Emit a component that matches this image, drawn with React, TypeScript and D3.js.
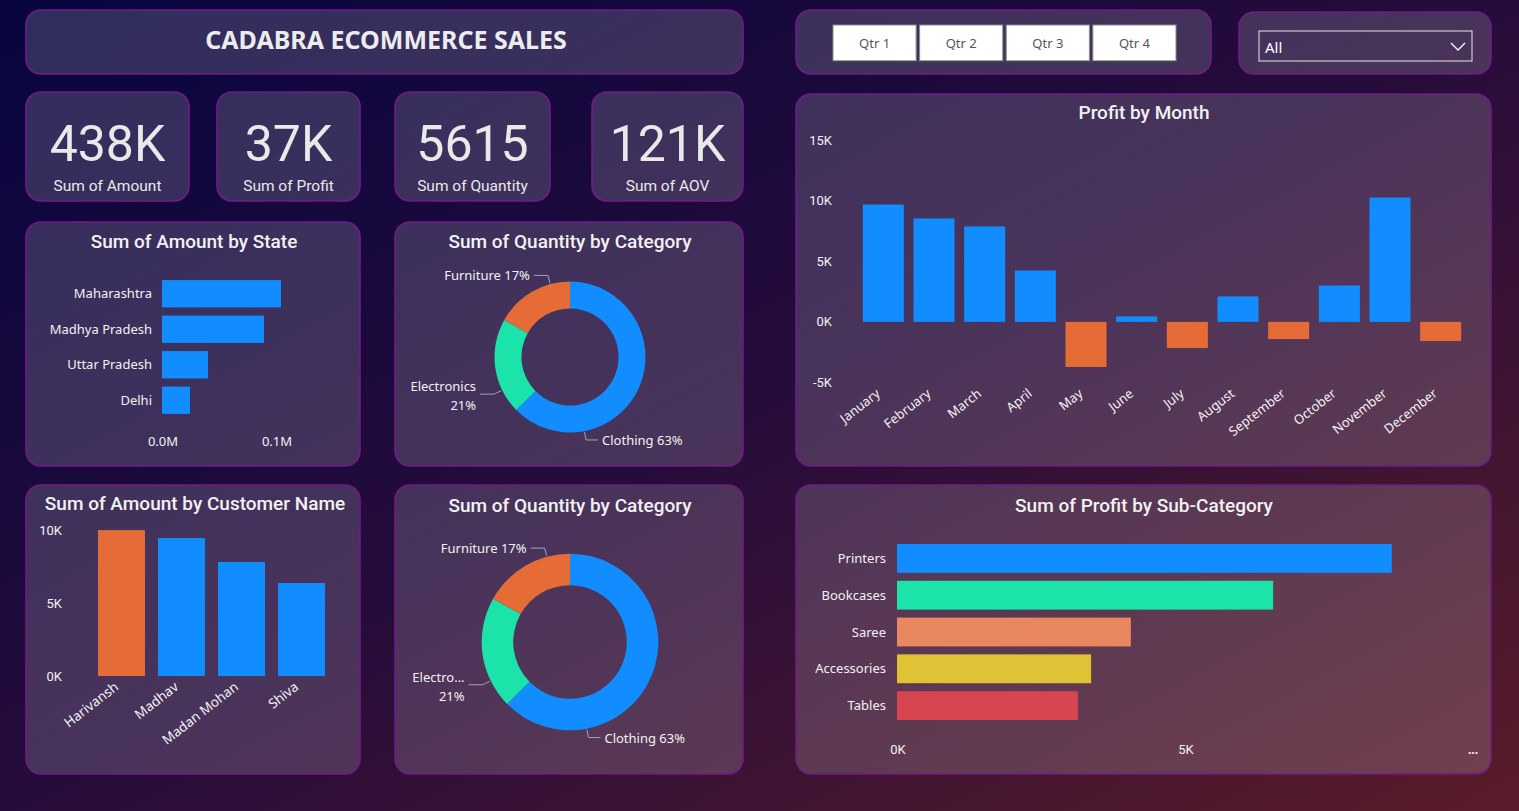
import React from "react";
import * as d3 from "d3";

// KPI cards
const KPI_VALUES = ["438K", "37K", "5615", "121K"];
const KPI_LABELS = ["Sum of Amount", "Sum of Profit", "Sum of Quantity", "Sum of AOV"];
const QUARTERS = ["Qtr 1", "Qtr 2", "Qtr 3", "Qtr 4"];

// Sum of Amount by State
const STATES = ["Maharashtra", "Madhya Pradesh", "Uttar Pradesh", "Delhi"];
const STATE_AMOUNT = [103500, 88600, 39500, 23700];

// Sum of Quantity by Category
const CATEGORIES = ["Clothing", "Electronics", "Furniture"];
const CATEGORY_QTY = [3516, 1154, 945];

// Profit by Month
const MONTHS = ["January", "February", "March", "April", "May", "June", "July", "August", "September", "October", "November", "December"];
const MONTH_PROFIT = [9680, 8530, 7870, 4240, -3720, 450, -2160, 2100, -1420, 3000, 10260, -1580];

// Sum of Amount by Customer Name
const CUSTOMERS = ["Harivansh", "Madhav", "Madan Mohan", "Shiva"];
const CUSTOMER_AMOUNT = [9990, 9450, 7810, 6370];

// Sum of Profit by Sub-Category
const SUBCATS = ["Printers", "Bookcases", "Saree", "Accessories", "Tables"];
const SUBCAT_PROFIT = [8590, 6530, 4060, 3370, 3140];

const DIN = "Roboto, 'DejaVu Sans', sans-serif";
const SEGOE = "'Noto Sans', 'Open Sans', sans-serif";
const TEXT = "#f2f2f2";
const BLUE = "#118DFF";
const ORANGE = "#E66C37";
const TEAL = "#1CE3A9";
const SUBCAT_COLORS = [BLUE, TEAL, "#E9875F", "#E0C235", "#D64550"];
const CATEGORY_COLORS = [BLUE, TEAL, ORANGE];
// where along each slice the leader line leaves the ring
const LEADER_T = [0.75, 0.25, 0.75];

const kFmt = (d: number) => `${d / 1000}K`;

const Panel = ({ x, y, w, h }: { x: number; y: number; w: number; h: number }) => (
  <rect x={x} y={y} width={w} height={h} rx={15} fill="rgba(255,255,255,0.16)" stroke="#701c88" strokeWidth={1.6} />
);

const Title = ({ x, y, text }: { x: number; y: number; text: string }) => (
  <text x={x} y={y} textAnchor="middle" fontFamily={DIN} fontWeight={500} fontSize={19} fill={TEXT}>{text}</text>
);

const StateChart = () => {
  const x = d3.scaleLinear().domain([0, 100000]).range([163, 277]);
  const y = d3.scaleBand().domain(STATES).range([276, 418]).paddingInner(0.23).paddingOuter(0.115);
  return (
    <g>
      <Title x={194} y={248} text="Sum of Amount by State" />
      {STATES.map((s, i) => (
        <g key={s}>
          <rect x={x(0) - 1} y={y(s)} width={x(STATE_AMOUNT[i]) - x(0) + 1} height={y.bandwidth()} fill={BLUE} />
          <text x={152} y={(y(s) as number) + y.bandwidth() / 2} dy="0.35em" textAnchor="end" fontFamily={SEGOE} fontSize={13} fill={TEXT}>{s}</text>
        </g>
      ))}
      {x.ticks(1).map((t) => (
        <text key={t} x={x(t)} y={446} textAnchor="middle" fontFamily={SEGOE} fontSize={13} fill={TEXT}>{`${(t / 1e6).toFixed(1)}M`}</text>
      ))}
    </g>
  );
};

const Donut = ({ cx, cy, r, title, titleY, truncate }: { cx: number; cy: number; r: number; title: string; titleY: number; truncate?: number }) => {
  const total = d3.sum(CATEGORY_QTY);
  const pie = d3.pie<number>().sort(null).value((d) => d)(CATEGORY_QTY);
  const arc = d3.arc<d3.PieArcDatum<number>>().innerRadius(r * 0.643).outerRadius(r);
  const pct = d3.format(".0%");
  return (
    <g>
      <Title x={cx} y={titleY} text={title} />
      <g transform={`translate(${cx},${cy})`}>
        {pie.map((p, i) => <path key={i} d={arc(p) as string} fill={CATEGORY_COLORS[i]} />)}
        {pie.map((p, i) => {
          const a = p.startAngle + LEADER_T[i] * (p.endAngle - p.startAngle);
          const pt = (rad: number) => [rad * Math.sin(a), -rad * Math.cos(a)];
          const [x0, y0] = pt(r + 1);
          const [x1, y1] = pt(r + 9);
          const left = Math.sin(a) < 0;
          const x2 = x1 + (left ? -14 : 12);
          const tx = x2 + (left ? -4 : 4);
          let name = CATEGORIES[i];
          if (truncate && name.length > truncate) name = name.slice(0, 7) + "...";
          const wrap = Math.abs(Math.cos(a)) < 0.5;
          const anchor = left ? "end" : "start";
          return (
            <g key={`l${i}`}>
              <polyline points={`${x0},${y0} ${x1},${y1} ${x2},${y1}`} fill="none" stroke="#a9a2b4" strokeWidth={1} />
              {wrap ? (
                <g>
                  <text x={tx} y={y1 - 3} textAnchor={anchor} fontFamily={SEGOE} fontSize={13} fill={TEXT}>{name}</text>
                  <text x={tx} y={y1 + 16} textAnchor={anchor} fontFamily={SEGOE} fontSize={13} fill={TEXT}>{pct(p.value / total)}</text>
                </g>
              ) : (
                <text x={tx} y={y1 + 5} textAnchor={anchor} fontFamily={SEGOE} fontSize={13} fill={TEXT}>{`${name} ${pct(p.value / total)}`}</text>
              )}
            </g>
          );
        })}
      </g>
    </g>
  );
};

const MonthChart = () => {
  const x = d3.scaleBand().domain(MONTHS).range([858, 1466]).paddingInner(0.19).paddingOuter(0.095);
  const y = d3.scaleLinear().domain([-5000, 15000]).range([382.5, 140]);
  return (
    <g>
      <Title x={1144} y={119} text="Profit by Month" />
      {y.ticks(4).map((t) => (
        <text key={t} x={832} y={y(t)} dy="0.35em" textAnchor="end" fontFamily={DIN} fontSize={13} fill={TEXT}>{kFmt(t)}</text>
      ))}
      {MONTHS.map((m, i) => {
        const v = MONTH_PROFIT[i];
        const cx = (x(m) as number) + x.bandwidth() / 2;
        return (
          <g key={m}>
            <rect x={x(m)} y={y(Math.max(0, v))} width={x.bandwidth()} height={Math.abs(y(v) - y(0))} fill={v >= 0 ? BLUE : ORANGE} />
            <text transform={`translate(${cx - 8},${388}) rotate(-38)`} dy="0.71em" textAnchor="end" fontFamily={SEGOE} fontSize={13} fill={TEXT}>{m}</text>
          </g>
        );
      })}
    </g>
  );
};

const CustomerChart = () => {
  const x = d3.scaleBand().domain(CUSTOMERS).range([91.5, 331.5]).paddingInner(0.217).paddingOuter(0.108);
  const y = d3.scaleLinear().domain([0, 10000]).range([676, 530]);
  const max = d3.max(CUSTOMER_AMOUNT) as number;
  return (
    <g>
      <Title x={195} y={510} text="Sum of Amount by Customer Name" />
      {y.ticks(2).map((t) => (
        <text key={t} x={62} y={y(t)} dy="0.35em" textAnchor="end" fontFamily={DIN} fontSize={13} fill={TEXT}>{kFmt(t)}</text>
      ))}
      {CUSTOMERS.map((c, i) => {
        const v = CUSTOMER_AMOUNT[i];
        const cx = (x(c) as number) + x.bandwidth() / 2;
        return (
          <g key={c}>
            <rect x={x(c)} y={y(v)} width={x.bandwidth()} height={y(0) - y(v)} fill={v === max ? ORANGE : BLUE} />
            <text transform={`translate(${cx - 8},${681}) rotate(-38)`} dy="0.71em" textAnchor="end" fontFamily={SEGOE} fontSize={13.5} fill={TEXT}>{c}</text>
          </g>
        );
      })}
    </g>
  );
};

const SubCategoryChart = () => {
  const x = d3.scaleLinear().domain([0, 5000]).range([897, 1185]);
  const y = d3.scaleBand().domain(SUBCATS).range([540, 724]).paddingInner(0.216).paddingOuter(0.108);
  return (
    <g>
      <Title x={1144} y={512} text="Sum of Profit by Sub-Category" />
      {SUBCATS.map((s, i) => (
        <g key={s}>
          <rect x={x(0)} y={y(s)} width={x(SUBCAT_PROFIT[i]) - x(0)} height={y.bandwidth()} fill={SUBCAT_COLORS[i]} />
          <text x={886} y={(y(s) as number) + y.bandwidth() / 2} dy="0.35em" textAnchor="end" fontFamily={SEGOE} fontSize={13} fill={TEXT}>{s}</text>
        </g>
      ))}
      {x.ticks(1).map((t) => (
        <text key={t} x={x(t) + 1} y={754} textAnchor="middle" fontFamily={DIN} fontSize={13} fill={TEXT}>{kFmt(t)}</text>
      ))}
      <text x={1473} y={754} textAnchor="middle" fontFamily={SEGOE} fontSize={12} fontWeight={700} fill={TEXT}>...</text>
    </g>
  );
};

const KPI_CARDS = [
  [26, 163],
  [217, 143],
  [395, 155],
  [592, 151],
];

export default function App() {
  const q = d3.scaleBand().domain(QUARTERS).range([833, 1176]).paddingInner(0.04);
  return (
    <svg width={1519} height={811} style={{ position: "absolute", left: 0, top: 0, display: "block" }}>
      <defs>
        <linearGradient id="bg" x1="0" y1="0" x2="1" y2="1">
          <stop offset="0" stopColor="#07053f" />
          <stop offset="0.5" stopColor="#260c3b" />
          <stop offset="1" stopColor="#5a1c29" />
        </linearGradient>
      </defs>
      <rect width={1519} height={811} fill="url(#bg)" />

      <Panel x={26} y={10} w={717} h={64} />
      <text x={386} y={49} textAnchor="middle" fontFamily={SEGOE} fontWeight={700} fontSize={25} fill="#ececec">CADABRA ECOMMERCE SALES</text>

      {KPI_CARDS.map(([x, w], i) => (
        <g key={i}>
          <Panel x={x} y={92} w={w} h={109} />
          <text x={x + w / 2} y={161} textAnchor="middle" fontFamily={DIN} fontSize={50} fill="#e9e9e9">{KPI_VALUES[i]}</text>
          <text x={x + w / 2} y={191} textAnchor="middle" fontFamily={DIN} fontSize={15.5} fill="#e9e9e9">{KPI_LABELS[i]}</text>
        </g>
      ))}

      <Panel x={796} y={10} w={415} h={64} />
      {QUARTERS.map((d) => (
        <g key={d}>
          <rect x={q(d)} y={25} width={q.bandwidth()} height={36} fill="#ffffff" stroke="#8a8a8a" strokeWidth={1} />
          <line x1={q(d)} x2={(q(d) as number) + q.bandwidth()} y1={61.5} y2={61.5} stroke="#444" strokeWidth={1.5} />
          <text x={(q(d) as number) + q.bandwidth() / 2} y={48} textAnchor="middle" fontFamily={SEGOE} fontSize={13} fill="#555">{d}</text>
        </g>
      ))}

      <Panel x={1239} y={12} w={252} h={62} />
      <rect x={1259} y={31} width={213} height={30} fill="none" stroke="#e6e6e6" strokeWidth={1} />
      <text x={1265} y={53} fontFamily={SEGOE} fontSize={15} fill="#ffffff">All</text>
      <polyline points="1451,43 1458,50 1465,43" fill="none" stroke="#ffffff" strokeWidth={1.3} />

      <Panel x={26} y={222} w={334} h={244} />
      <StateChart />

      <Panel x={395} y={222} w={348} h={244} />
      <Donut cx={570} cy={357} r={75.5} title="Sum of Quantity by Category" titleY={248} />

      <Panel x={796} y={94} w={695} h={372} />
      <MonthChart />

      <Panel x={26} y={485} w={334} h={289} />
      <CustomerChart />

      <Panel x={395} y={485} w={348} h={289} />
      <Donut cx={570} cy={642} r={88.3} title="Sum of Quantity by Category" titleY={512} truncate={9} />

      <Panel x={796} y={485} w={695} h={289} />
      <SubCategoryChart />
    </svg>
  );
}
